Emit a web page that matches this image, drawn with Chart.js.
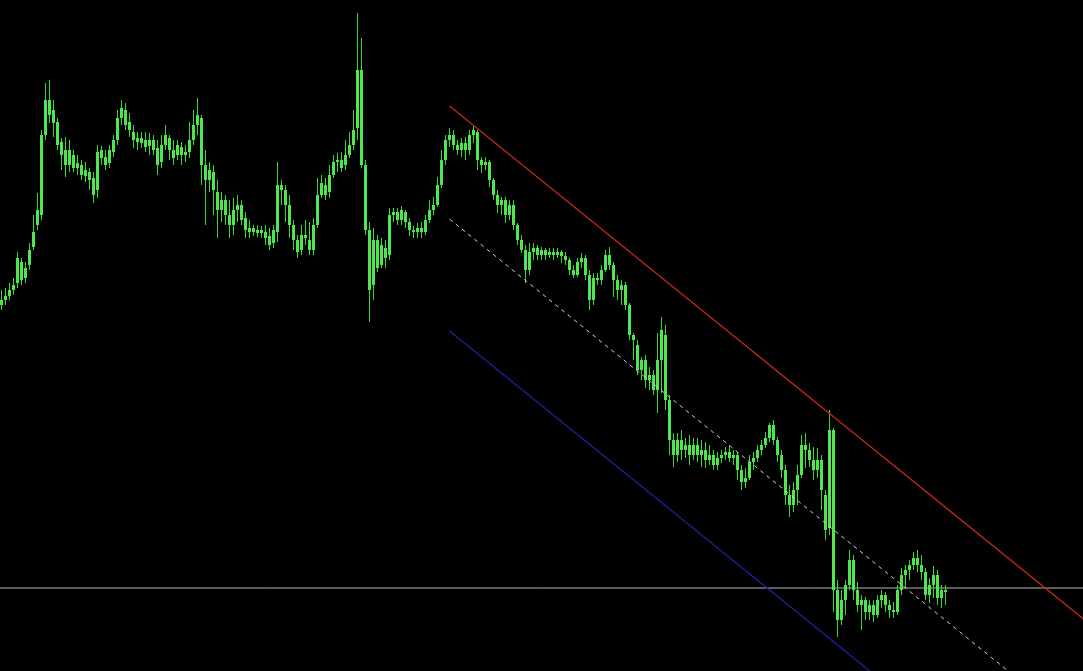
<!DOCTYPE html>
<html>
<head>
<meta charset="utf-8">
<title>Regression channel</title>
<script src="https://cdn.jsdelivr.net/npm/chart.js@4/dist/chart.umd.min.js"></script>
<style>
  html, body { margin: 0; padding: 0; background: #000; overflow: hidden; }
  #myChart { display: block; }
</style>
</head>
<body>
<canvas id="myChart" width="1083" height="671"></canvas>
<script>
// Price data, one value per bar (points)
let opens = [695,700,704,710,717,738,722,735,753,775,
  785,865,900,890,878,858,850,835,845,832,
  835,824,828,822,810,850,843,837,848,860,
  882,890,878,868,862,857,860,854,860,852,
  838,855,862,850,845,853,845,848,860,875,
  882,835,820,828,808,790,800,785,775,790,
  795,782,768,772,767,770,768,764,757,768,
  815,810,795,775,760,750,765,760,750,775,
  805,815,808,825,838,840,835,845,855,872,
  930,835,770,715,760,735,752,745,785,788,
  780,788,778,770,768,772,768,780,790,795,
  815,840,860,865,855,850,857,850,865,868,
  840,835,838,820,805,795,800,785,795,775,
  760,750,730,748,752,745,750,745,748,745,
  748,744,740,730,725,738,742,725,700,722,
  720,730,745,735,720,710,715,695,665,655,
  630,640,620,625,610,640,665,600,560,545,
  560,550,555,545,555,545,550,540,545,535,
  542,545,548,542,545,530,518,522,538,542,
  550,555,562,575,560,545,530,505,495,510,
  525,555,550,540,530,540,505,472,570,410,
  380,400,415,440,410,395,400,388,395,385,
  400,405,395,390,388,410,425,430,435,442,
  435,428,405,415,425,402,410];

let highs = [710,712,717,722,748,742,738,757,785,807,
  870,917,920,900,882,862,863,860,850,845,
  840,838,832,828,855,854,850,855,865,890,
  900,897,887,875,868,868,868,867,865,860,
  865,875,865,860,860,858,855,878,890,902,
  885,850,838,835,820,808,805,800,802,805,
  800,788,780,775,775,774,775,772,775,838,
  820,815,805,780,765,775,780,778,782,822,
  825,822,835,845,847,848,860,868,890,987,
  962,840,778,772,765,762,760,792,792,792,
  794,790,782,774,777,778,785,800,803,823,
  850,865,872,870,860,862,863,870,875,870,
  843,843,840,822,810,803,803,800,800,777,
  765,755,757,757,755,753,752,752,752,752,
  750,748,742,735,742,747,745,730,727,727,
  735,750,753,738,725,720,718,697,667,660,
  643,645,633,630,667,683,675,605,567,567,
  570,562,565,562,562,560,558,555,550,548,
  550,553,554,550,548,535,532,545,548,555,
  560,568,577,580,563,550,535,515,518,535,
  565,567,557,553,552,545,510,590,572,420,
  410,420,450,445,418,405,403,400,400,405,
  410,408,400,398,415,432,435,440,448,450,
  445,432,422,434,430,415,415];

let lows = [690,695,700,705,712,715,717,730,750,770,
  780,860,877,863,850,830,823,828,828,825,
  820,818,810,797,802,835,830,832,843,855,
  875,870,863,852,850,852,848,845,845,825,
  832,850,840,835,840,835,838,842,855,865,
  815,775,808,785,762,778,775,762,765,778,
  775,762,762,764,763,762,755,750,752,758,
  795,778,762,750,742,745,755,745,745,772,
  802,800,802,822,828,828,830,842,850,860,
  832,765,678,700,728,732,732,740,778,775,
  775,772,764,762,762,762,765,777,785,793,
  812,835,853,850,845,843,840,845,857,830,
  827,830,813,800,787,785,777,780,770,755,
  747,717,725,740,740,740,740,742,740,742,
  737,735,725,722,723,732,720,690,695,715,
  715,728,730,703,700,695,690,660,640,625,
  620,612,610,605,587,607,590,545,533,538,
  540,542,535,540,538,533,532,535,530,530,
  537,540,538,535,520,510,512,520,530,538,
  545,552,558,555,538,522,495,483,488,495,
  522,532,533,520,522,490,460,465,388,363,
  375,385,410,400,388,370,380,380,378,382,
  392,388,382,382,385,405,412,420,430,428,
  420,400,397,402,395,392,395];

let closes = [700,704,710,715,742,720,732,750,768,790,
  865,900,885,877,855,845,835,850,832,837,
  825,830,820,805,848,842,835,850,860,882,
  892,875,870,860,858,862,853,860,850,835,
  855,865,850,842,855,845,848,860,875,885,
  835,820,830,810,790,800,785,775,790,795,
  780,770,772,768,770,767,762,755,770,815,
  810,795,775,760,748,765,762,750,775,805,
  817,805,825,838,840,832,845,855,870,930,
  835,770,710,760,732,755,742,785,788,780,
  790,778,770,768,772,768,780,790,795,815,
  840,860,865,855,850,857,850,865,870,840,
  835,838,820,805,795,800,785,795,775,760,
  750,730,748,752,745,750,745,748,745,748,
  744,740,730,725,738,742,725,700,722,720,
  730,745,735,720,710,715,695,665,660,630,
  640,620,625,610,640,670,600,560,545,560,
  550,555,545,555,545,550,540,545,535,542,
  545,548,542,545,530,518,522,538,542,550,
  555,562,575,560,545,530,505,495,510,525,
  555,550,540,530,540,510,470,570,410,380,
  400,415,440,410,395,400,388,395,385,400,
  405,395,390,388,410,425,430,435,442,435,
  428,405,415,425,402,410,408];

// Regression channel: [start bar, end bar] and price at each end
let channelBars = [112, 270.5];
let channelUpper = [894, 381];
let channelMiddle = [781, 268];
let channelLower = [669, 156];

// Horizontal price level
let levelPrice = 412;

let xMin = -0.375;
let xMax = 270.375;
let yMin = 329;
let yMax = 1000;

let wickGreen = '#35d835';
let bodyGreen = '#4ee84e';

let wicks = [];
let bodies = [];
for (let i = 0; i < closes.length; i++) {
  wicks.push({ x: i, y: [lows[i], highs[i]] });
  bodies.push({ x: i, y: [opens[i], closes[i]] });
}

function linePoints(prices) {
  return [
    { x: channelBars[0], y: prices[0] },
    { x: channelBars[1], y: prices[1] }
  ];
}

let ctx = document.getElementById('myChart').getContext('2d');
// eslint-disable-next-line no-undef
let myChart = new Chart(ctx, {
  type: 'bar',
  data: {
    datasets: [{
      type: 'line',
      label: 'level',
      data: [{ x: xMin, y: levelPrice }, { x: xMax, y: levelPrice }],
      borderColor: '#b4b4b4',
      borderWidth: 1,
      pointRadius: 0,
      order: 5
    }, {
      label: 'wicks',
      data: wicks,
      backgroundColor: wickGreen,
      borderWidth: 0,
      barThickness: 1,
      grouped: false,
      inflateAmount: 0,
      order: 4
    }, {
      label: 'bodies',
      data: bodies,
      backgroundColor: bodyGreen,
      borderWidth: 0,
      barThickness: 3,
      minBarLength: 1,
      grouped: false,
      inflateAmount: 0,
      order: 3
    }, {
      type: 'line',
      label: 'upper',
      data: linePoints(channelUpper),
      borderColor: '#c4261f',
      borderWidth: 1.3,
      pointRadius: 0,
      order: 2
    }, {
      type: 'line',
      label: 'middle',
      data: linePoints(channelMiddle),
      borderColor: '#d0d0d0',
      borderWidth: 1,
      borderDash: [4, 4],
      pointRadius: 0,
      order: 2
    }, {
      type: 'line',
      label: 'lower',
      data: linePoints(channelLower),
      borderColor: '#2020a0',
      borderWidth: 1.3,
      pointRadius: 0,
      order: 2
    }]
  },
  options: {
    responsive: false,
    animation: false,
    devicePixelRatio: 1,
    layout: { padding: 0 },
    plugins: {
      legend: { display: false },
      tooltip: { enabled: false }
    },
    scales: {
      x: {
        type: 'linear',
        min: xMin,
        max: xMax,
        offset: false,
        display: false
      },
      y: {
        min: yMin,
        max: yMax,
        display: false
      }
    }
  }
});
</script>
</body>
</html>
